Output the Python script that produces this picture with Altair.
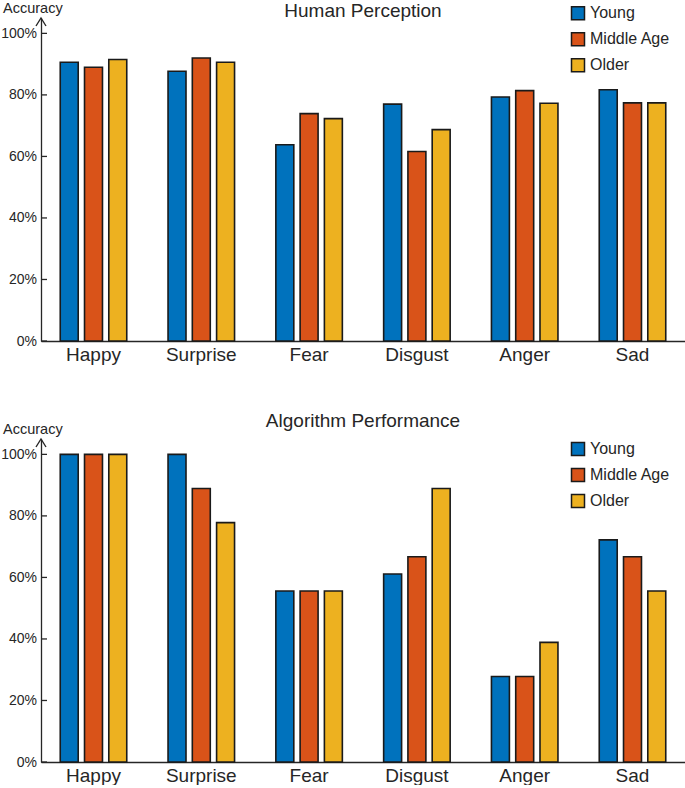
import altair as alt
import pandas as pd

# Categories and groups
emotions = ["Happy", "Surprise", "Fear", "Disgust", "Anger", "Sad"]
groups = ["Young", "Middle Age", "Older"]
group_colors = ["#0072BD", "#D95319", "#EDB120"]

# Human perception accuracy (%) per emotion
human_young = [90.6, 87.7, 63.8, 77.0, 79.3, 81.7]
human_middle = [89.0, 92.0, 73.9, 61.6, 81.4, 77.4]
human_older = [91.5, 90.6, 72.3, 68.7, 77.3, 77.4]

# Algorithm accuracy (%) per emotion
algo_young = [100.0, 100.0, 55.6, 61.1, 27.8, 72.2]
algo_middle = [100.0, 88.9, 55.6, 66.7, 27.8, 66.7]
algo_older = [100.0, 77.8, 55.6, 88.9, 38.9, 55.6]

# Axis ticks and the top of the value axis (where the arrow head sits)
tick_values = [0, 20, 40, 60, 80, 100]
axis_top = 105

INK = "#262626"
FONT = "Liberation Sans"
PLOT_W = 644
PLOT_H = 323


def panel(title, series, title_y, legend_y):
    rows = []
    for g, vals in zip(groups, series):
        for e, v in zip(emotions, vals):
            rows.append({"emotion": e, "group": g, "accuracy": v})
    df = pd.DataFrame(rows)

    y = alt.Y(
        "accuracy:Q",
        scale=alt.Scale(domain=[0, axis_top], nice=False, zero=True),
        axis=alt.Axis(
            values=tick_values,
            labelExpr="datum.value + '%'",
            ticks=False,
            grid=False,
            title=None,
            labelFontSize=14,
            labelColor=INK,
            labelPadding=4.5,
            domainColor=INK,
            domainWidth=1.3,
        ),
    )

    bars = (
        alt.Chart(df)
        .mark_bar(stroke="#1a1a1a", strokeWidth=1.6, opacity=1)
        .encode(
            x=alt.X(
                "emotion:N",
                sort=emotions,
                scale=alt.Scale(paddingInner=0.32, paddingOuter=0.147),
                axis=alt.Axis(
                    title=None,
                    labelAngle=0,
                    ticks=False,
                    labelFontSize=19,
                    labelColor=INK,
                    labelPadding=4,
                    domainColor=INK,
                    domainWidth=1.3,
                ),
            ),
            xOffset=alt.XOffset(
                "group:N",
                sort=groups,
                scale=alt.Scale(paddingInner=0.26, paddingOuter=0.14),
            ),
            y=y,
            color=alt.Color(
                "group:N",
                sort=groups,
                scale=alt.Scale(domain=groups, range=group_colors),
                legend=alt.Legend(
                    title=None,
                    orient="none",
                    legendX=529,
                    legendY=legend_y,
                    symbolType="square",
                    symbolSize=169,
                    symbolStrokeColor="#1a1a1a",
                    symbolStrokeWidth=1.5,
                    symbolOpacity=1,
                    labelFontSize=16,
                    labelColor=INK,
                    labelOffset=4,
                    rowPadding=6,
                    padding=0,
                ),
            ),
        )
    )

    # inward tick marks on the value axis
    ticks = (
        alt.Chart(pd.DataFrame({"accuracy": tick_values}))
        .mark_rule(color=INK, strokeWidth=1.3)
        .encode(y=y, x=alt.value(0), x2=alt.value(6))
    )

    # arrow head at the top of the value axis
    arrow = (
        alt.Chart(pd.DataFrame({"accuracy": [axis_top]}))
        .mark_point(
            shape="M-1,1.6L0,0L1,1.6",
            filled=False,
            size=100,
            stroke=INK,
            strokeWidth=1.4,
            opacity=1,
        )
        .encode(y=y, x=alt.value(0))
    )

    axis_label = (
        alt.Chart(pd.DataFrame({"label": ["Accuracy"]}))
        .mark_text(align="left", baseline="alphabetic", fontSize=14.5, color=INK)
        .encode(text="label:N", x=alt.value(-38), y=alt.value(-5.5))
    )

    heading = (
        alt.Chart(pd.DataFrame({"label": [title]}))
        .mark_text(align="center", baseline="alphabetic", fontSize=19, color=INK)
        .encode(text="label:N", x=alt.value(PLOT_W / 2), y=alt.value(title_y))
    )

    return alt.layer(bars, ticks, arrow, axis_label, heading).properties(
        width=PLOT_W, height=PLOT_H
    )


top = panel("Human Perception", [human_young, human_middle, human_older], -1.5, -12.8)
bottom = panel("Algorithm Performance", [algo_young, algo_middle, algo_older], -11.8, 2)

chart = (
    alt.vconcat(top, bottom, spacing=98, bounds="flush")
    .resolve_legend(color="independent")
    .properties(padding=0)
    .configure(font=FONT)
    .configure_view(stroke=None)
)

chart.save("out.html", embed_options={"renderer": "svg", "actions": False})
